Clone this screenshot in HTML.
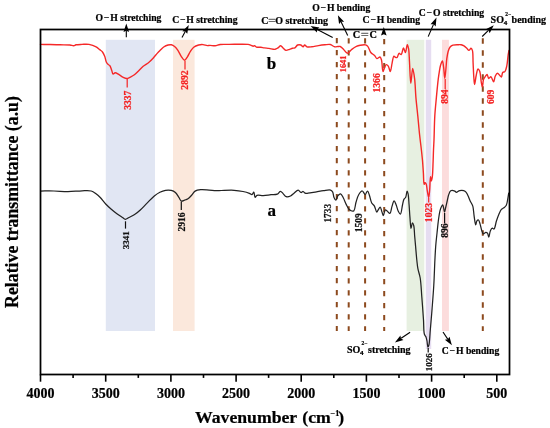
<!DOCTYPE html>
<html><head><meta charset="utf-8"><title>FTIR spectra</title>
<style>
html,body{margin:0;padding:0;background:#fff;}
body{width:550px;height:428px;overflow:hidden;}
svg{display:block;}
text{font-family:'Liberation Serif','Times New Roman',serif;font-weight:bold;fill:currentColor;stroke:currentColor;stroke-width:0.22px;}
</style></head><body>
<svg width="550" height="428" viewBox="0 0 550 428">


<rect x="105.8" y="39.8" width="49.2" height="291.2" fill="#e1e6f3"/>
<rect x="173.0" y="39.8" width="21.6" height="291.2" fill="#fbe8dc"/>
<rect x="406.6" y="39.8" width="17.7" height="291.2" fill="#e7f0e1"/>
<rect x="425.8" y="39.8" width="5.4" height="309.2" fill="#e6ddf1"/>
<rect x="442.0" y="39.8" width="6.9" height="291.2" fill="#fcdcdc"/>
<line x1="336.8" y1="37.9" x2="336.8" y2="331" stroke="#8d4a1e" stroke-width="2" stroke-dasharray="5.4 6.6"/>
<line x1="348.7" y1="38.2" x2="348.7" y2="331" stroke="#8d4a1e" stroke-width="2" stroke-dasharray="5.4 6.6"/>
<line x1="365.1" y1="38.2" x2="365.1" y2="331" stroke="#8d4a1e" stroke-width="2" stroke-dasharray="5.4 6.6"/>
<line x1="384.2" y1="38.9" x2="384.2" y2="331" stroke="#8d4a1e" stroke-width="2" stroke-dasharray="5.4 6.6"/>
<line x1="482.8" y1="38.3" x2="482.8" y2="331" stroke="#8d4a1e" stroke-width="2" stroke-dasharray="5.4 6.6"/>
<path d="M40.50,44.40 C43.67,44.43 46.79,44.44 50.00,44.50 C53.29,44.57 56.67,44.72 60.00,44.80 C63.33,44.88 67.49,44.74 70.00,45.00 C71.54,45.16 72.63,45.80 73.70,45.70 C74.57,45.62 75.03,45.02 76.00,44.80 C77.51,44.46 79.92,44.47 82.00,44.40 C84.24,44.33 86.69,44.02 89.00,44.40 C91.39,44.79 94.16,45.74 96.10,46.80 C97.68,47.66 98.87,49.01 100.00,49.90 C100.87,50.58 101.60,50.86 102.30,51.70 C103.23,52.81 104.03,54.64 104.70,56.30 C105.42,58.11 105.65,60.74 106.40,62.20 C106.91,63.21 107.56,63.89 108.20,64.50 C108.74,65.01 109.40,65.07 109.90,65.70 C110.67,66.68 111.14,68.84 111.70,70.30 C112.20,71.62 112.40,73.87 113.10,74.10 C113.65,74.28 114.39,72.75 115.20,72.70 C116.20,72.63 117.51,73.72 118.70,74.40 C120.04,75.16 121.40,76.41 122.80,77.10 C124.10,77.74 125.52,78.53 126.80,78.50 C128.01,78.47 129.11,77.67 130.30,77.10 C131.63,76.46 133.09,75.77 134.40,74.80 C135.84,73.74 137.09,72.26 138.50,70.90 C140.02,69.44 141.49,67.73 143.20,66.30 C144.98,64.82 147.23,63.70 149.00,62.20 C150.72,60.75 152.28,59.04 153.70,57.50 C154.98,56.11 156.08,54.63 157.20,53.40 C158.17,52.33 158.99,51.50 160.00,50.50 C161.14,49.38 162.33,47.92 163.70,47.00 C165.04,46.10 166.71,45.35 168.10,45.00 C169.25,44.71 170.34,44.57 171.40,44.80 C172.51,45.04 173.59,45.70 174.60,46.50 C175.78,47.44 176.87,48.83 177.90,50.30 C179.10,52.02 180.00,54.55 181.20,56.30 C182.25,57.83 183.53,60.32 184.60,60.30 C185.59,60.29 186.50,58.14 187.40,56.80 C188.45,55.23 189.31,53.05 190.40,51.40 C191.42,49.87 192.34,48.27 193.70,47.20 C195.07,46.13 196.98,45.43 198.60,45.00 C200.07,44.61 201.55,44.50 203.00,44.60 C204.45,44.70 206.03,45.50 207.30,45.60 C208.30,45.68 208.96,45.40 210.00,45.40 C211.43,45.40 213.41,45.94 215.10,45.80 C216.81,45.65 218.25,44.76 220.20,44.50 C222.74,44.17 225.57,44.42 229.10,44.40 C234.27,44.37 244.84,43.88 248.20,44.40 C249.45,44.59 249.86,44.91 250.70,45.20 C251.56,45.50 252.60,46.21 253.30,46.20 C253.78,46.19 254.07,45.65 254.50,45.70 C255.08,45.77 255.58,46.81 256.40,47.10 C257.54,47.50 259.51,47.15 260.90,47.30 C262.12,47.43 263.07,47.73 264.30,47.90 C265.74,48.10 267.33,48.19 269.00,48.40 C270.90,48.64 273.49,49.56 275.10,49.30 C276.25,49.12 276.99,48.46 277.90,47.90 C278.86,47.31 279.83,45.76 280.70,45.80 C281.52,45.84 282.19,47.18 283.00,47.90 C283.88,48.68 284.72,50.05 285.80,50.30 C286.91,50.56 288.44,49.68 289.60,49.30 C290.61,48.97 291.48,48.43 292.40,48.20 C293.24,47.99 294.12,48.30 294.90,47.90 C295.88,47.40 296.54,45.46 297.60,45.00 C298.57,44.58 299.96,44.66 300.90,45.00 C301.77,45.31 302.45,46.85 303.10,46.80 C303.70,46.75 304.10,45.05 304.70,45.00 C305.35,44.95 305.95,46.46 306.90,46.80 C308.15,47.25 310.05,46.96 311.80,46.80 C313.84,46.62 316.20,45.93 318.40,45.60 C320.57,45.27 322.83,44.98 324.90,44.80 C326.78,44.63 328.64,44.14 330.30,44.50 C331.89,44.84 333.30,46.52 334.70,46.80 C335.84,47.03 337.01,46.54 338.00,46.50 C338.81,46.46 339.45,46.23 340.20,46.50 C341.23,46.88 342.29,48.19 343.40,49.20 C344.70,50.38 346.10,53.17 347.50,53.20 C348.90,53.23 350.30,50.54 351.80,49.40 C353.27,48.28 354.89,47.09 356.40,46.40 C357.68,45.81 358.81,45.55 360.20,45.30 C361.81,45.01 364.14,44.55 365.50,44.90 C366.48,45.15 367.08,45.59 367.80,46.40 C368.93,47.67 369.53,50.93 370.80,52.50 C371.87,53.83 373.55,54.42 374.60,55.50 C375.54,56.47 375.97,58.38 376.90,58.60 C377.78,58.81 379.23,56.74 380.00,57.00 C380.76,57.25 381.08,58.70 381.50,60.10 C382.27,62.66 382.25,71.41 383.00,71.50 C383.49,71.56 384.16,68.14 384.80,66.90 C385.28,65.97 385.70,64.70 386.30,64.60 C386.88,64.51 387.72,65.40 388.30,66.20 C389.16,67.38 389.71,71.54 390.30,71.50 C391.02,71.45 391.47,65.77 392.10,63.10 C392.68,60.65 393.04,56.38 393.90,56.10 C394.36,55.95 394.93,57.20 395.50,57.40 C396.00,57.58 396.63,57.70 397.10,57.40 C397.90,56.89 398.17,53.58 399.00,53.30 C399.62,53.09 400.57,54.74 401.20,54.50 C402.25,54.09 402.75,47.92 403.50,47.90 C404.14,47.88 404.83,52.64 405.40,52.60 C406.13,52.55 406.69,44.72 407.30,44.70 C407.74,44.68 408.26,47.02 408.60,48.80 C409.19,51.92 409.18,57.07 409.50,62.00 C409.90,68.28 410.19,83.38 410.80,83.40 C411.31,83.42 412.00,68.42 412.70,68.40 C413.29,68.38 414.10,74.74 414.60,78.70 C415.27,83.99 415.37,91.18 415.90,97.40 C416.43,103.61 417.18,109.78 417.80,116.00 C418.42,122.25 418.97,128.87 419.60,134.80 C420.17,140.14 420.88,145.26 421.40,150.00 C421.86,154.15 422.27,157.81 422.60,161.70 C422.93,165.57 423.15,169.48 423.40,173.30 C423.65,177.04 423.57,184.30 424.10,184.40 C424.32,184.44 424.55,182.77 424.90,182.70 C425.23,182.64 425.77,183.19 426.10,183.80 C426.79,185.07 426.86,188.50 427.30,190.80 C427.73,193.06 428.32,197.51 428.70,197.50 C429.08,197.49 429.34,193.45 429.60,190.80 C429.98,186.99 430.08,176.83 430.50,176.80 C430.73,176.79 431.00,180.89 431.30,180.90 C431.60,180.91 432.03,178.61 432.30,176.80 C432.81,173.37 432.89,166.41 433.10,161.70 C433.28,157.55 433.34,153.75 433.50,150.00 C433.65,146.54 433.83,144.05 434.00,140.00 C434.26,133.72 434.35,123.49 434.80,116.00 C435.19,109.40 435.82,103.61 436.40,97.40 C436.98,91.17 437.72,83.41 438.30,78.70 C438.65,75.83 438.92,74.04 439.30,71.80 C439.66,69.65 439.93,67.40 440.50,65.50 C441.00,63.84 441.90,60.95 442.40,61.00 C442.97,61.06 443.24,64.75 443.60,67.10 C444.08,70.26 444.40,78.30 444.80,78.30 C445.17,78.30 445.57,72.18 445.90,69.00 C446.24,65.66 446.37,61.85 446.80,58.70 C447.17,55.99 447.54,53.31 448.20,51.20 C448.71,49.56 449.22,48.04 450.10,47.00 C450.85,46.11 451.77,45.50 452.90,45.10 C454.30,44.61 456.50,44.74 458.00,44.70 C459.19,44.67 460.19,44.59 461.20,44.80 C462.18,45.00 463.11,45.36 464.00,45.90 C464.99,46.49 465.95,47.51 466.80,48.30 C467.57,49.01 468.20,50.40 468.90,50.40 C469.60,50.40 470.40,48.24 471.00,48.30 C471.55,48.35 472.05,49.34 472.40,50.40 C473.19,52.78 472.87,58.68 473.10,63.00 C473.34,67.57 473.49,73.15 473.80,77.10 C474.03,79.96 474.23,84.49 474.60,84.50 C475.01,84.51 475.58,78.24 476.20,75.50 C476.73,73.14 477.24,69.14 478.00,69.00 C478.50,68.91 479.23,70.17 479.70,71.30 C480.62,73.54 480.75,79.43 481.30,82.30 C481.66,84.17 482.07,86.91 482.40,86.90 C482.82,86.88 482.84,81.33 483.50,79.50 C483.94,78.29 484.58,77.55 485.20,76.70 C485.79,75.90 486.55,74.41 487.10,74.50 C487.76,74.61 487.96,78.31 488.70,78.50 C489.30,78.65 490.21,76.56 490.90,76.70 C491.88,76.89 492.87,81.78 493.60,81.70 C494.35,81.62 494.52,77.51 495.30,76.00 C495.90,74.83 496.73,73.25 497.50,73.20 C498.23,73.16 499.10,74.82 499.80,75.50 C500.38,76.06 500.96,77.12 501.40,77.00 C502.04,76.82 501.92,73.37 502.70,72.50 C503.26,71.88 504.30,72.25 504.90,71.60 C505.86,70.57 506.29,68.15 506.80,65.90 C507.50,62.80 507.75,57.45 508.20,54.60 C508.47,52.85 508.73,51.80 509.00,50.40" fill="none" stroke="#f52828" stroke-width="1.4" stroke-linejoin="round" stroke-linecap="round"/>
<path d="M40.50,191.00 C45.00,191.00 49.46,190.89 54.00,191.00 C58.63,191.12 63.33,191.73 68.00,191.70 C72.69,191.67 77.91,190.89 82.10,190.80 C85.46,190.73 88.72,190.30 91.20,191.00 C93.14,191.55 94.52,192.74 96.00,193.80 C97.45,194.84 98.60,195.88 100.00,197.30 C101.80,199.12 103.78,201.98 105.70,204.00 C107.45,205.84 109.15,207.40 111.00,209.00 C112.88,210.63 114.93,212.25 116.90,213.70 C118.76,215.07 120.95,216.47 122.50,217.50 C123.59,218.22 124.28,219.24 125.30,219.30 C126.43,219.37 127.64,218.18 129.00,217.50 C130.68,216.66 132.78,215.79 134.60,214.60 C136.56,213.32 138.39,211.73 140.30,210.00 C142.45,208.05 144.55,205.67 146.80,203.40 C149.21,200.98 151.89,197.87 154.30,195.90 C156.22,194.33 157.97,193.15 159.90,192.20 C161.71,191.31 163.60,190.60 165.50,190.30 C167.37,190.01 169.49,189.98 171.20,190.40 C172.75,190.78 174.17,191.45 175.40,192.50 C176.79,193.69 177.85,195.88 178.90,197.40 C179.79,198.68 180.27,200.60 181.30,201.00 C182.20,201.35 183.42,200.55 184.50,200.20 C185.65,199.83 186.89,199.52 188.00,198.80 C189.28,197.97 190.44,196.55 191.60,195.30 C192.81,193.99 193.61,192.03 195.10,191.10 C196.63,190.14 198.63,189.91 200.70,189.70 C203.20,189.45 206.43,189.92 209.10,190.10 C211.54,190.26 213.93,190.65 216.10,190.70 C217.99,190.75 219.25,190.56 221.40,190.50 C224.72,190.41 230.25,190.07 234.10,190.30 C237.34,190.49 240.30,190.92 243.00,191.50 C245.33,192.00 247.78,192.75 249.40,193.40 C250.45,193.82 251.18,194.86 251.90,194.70 C252.66,194.53 253.30,192.10 253.80,192.20 C254.45,192.33 254.40,197.11 255.10,197.30 C255.60,197.44 256.08,195.77 257.00,195.40 C258.42,194.84 261.10,195.69 263.30,195.60 C265.74,195.50 268.56,194.96 271.00,194.70 C273.20,194.47 275.64,194.82 277.30,194.10 C278.66,193.51 279.49,191.30 280.50,191.30 C281.41,191.30 282.20,192.77 283.10,193.60 C284.12,194.55 285.05,196.31 286.30,196.70 C287.52,197.08 289.23,196.57 290.50,196.00 C291.80,195.42 292.77,194.14 294.00,193.20 C295.33,192.18 296.96,190.05 298.20,190.10 C299.24,190.14 300.10,192.38 301.00,192.50 C301.72,192.60 302.42,191.42 303.10,191.50 C303.83,191.59 304.39,192.91 305.20,193.20 C306.02,193.49 306.82,193.30 308.00,193.20 C310.07,193.03 313.80,192.23 316.50,191.80 C318.95,191.41 321.16,190.98 323.50,190.70 C325.83,190.42 328.91,189.61 330.50,190.10 C331.49,190.40 332.05,190.94 332.60,191.80 C333.40,193.05 333.35,195.90 334.00,197.40 C334.49,198.54 335.21,200.24 335.80,200.20 C336.54,200.15 337.05,196.60 338.00,195.50 C338.74,194.65 339.79,193.63 340.60,193.80 C341.63,194.01 342.53,196.41 343.40,198.00 C344.42,199.87 345.21,202.43 346.20,204.40 C347.09,206.17 347.90,208.17 349.00,209.30 C349.84,210.16 350.90,210.82 351.80,211.00 C352.52,211.15 353.32,211.23 353.90,210.70 C355.08,209.64 355.17,205.03 356.00,202.30 C356.81,199.63 357.54,196.48 358.80,194.50 C359.77,192.97 361.21,190.95 362.30,191.00 C363.34,191.05 364.32,194.55 365.20,194.50 C366.05,194.45 366.81,190.95 367.50,191.00 C368.22,191.06 368.79,193.56 369.40,195.20 C370.21,197.38 370.64,201.13 371.70,203.00 C372.43,204.28 373.54,204.59 374.30,205.80 C375.32,207.41 375.98,212.03 376.80,212.10 C377.37,212.15 377.90,210.15 378.50,209.30 C379.04,208.53 379.69,207.12 380.20,207.20 C380.91,207.32 381.43,210.61 382.00,212.10 C382.49,213.37 382.93,215.62 383.40,215.60 C383.99,215.58 384.32,210.36 385.20,210.00 C385.73,209.78 386.43,210.55 387.10,211.00 C387.97,211.59 389.15,213.62 389.90,213.40 C390.96,213.09 391.26,208.59 392.00,206.40 C392.67,204.42 393.35,200.84 394.10,200.80 C394.76,200.77 395.55,203.43 396.20,205.00 C396.97,206.86 397.45,209.67 398.30,211.30 C398.92,212.48 399.80,214.23 400.40,214.10 C401.38,213.89 401.86,207.66 402.50,205.00 C403.00,202.91 403.20,200.76 403.90,199.40 C404.39,198.46 405.22,198.27 405.70,197.30 C406.44,195.82 406.62,191.03 407.10,191.00 C407.43,190.98 407.82,192.53 408.10,193.80 C408.64,196.27 408.79,201.13 409.10,205.00 C409.43,209.17 409.66,213.90 410.00,218.00 C410.30,221.69 410.50,228.46 411.00,228.50 C411.37,228.53 411.85,222.86 412.40,222.80 C412.79,222.76 413.36,224.26 413.70,225.50 C414.36,227.88 414.37,232.74 414.70,236.40 C415.04,240.11 415.36,243.77 415.70,247.60 C416.06,251.63 416.40,256.24 416.80,260.00 C417.14,263.16 417.35,265.77 417.90,268.70 C418.47,271.76 419.59,274.34 420.20,278.00 C421.05,283.13 421.28,290.12 421.80,296.70 C422.38,304.04 423.04,313.18 423.50,320.00 C423.86,325.34 423.54,331.55 424.40,334.30 C424.79,335.54 425.49,335.83 425.90,336.80 C426.40,337.99 426.69,339.45 427.00,341.00 C427.38,342.86 427.45,347.14 427.90,347.20 C428.18,347.24 428.61,346.10 428.90,345.00 C429.63,342.26 429.82,335.46 430.30,330.00 C430.88,323.46 431.53,315.75 432.10,308.40 C432.70,300.76 433.34,292.93 433.80,285.00 C434.28,276.81 434.54,267.10 434.90,260.00 C435.17,254.72 435.34,250.81 435.70,246.20 C436.07,241.55 436.62,236.74 437.10,232.20 C437.56,227.89 437.98,223.37 438.50,219.60 C438.93,216.51 439.33,213.50 439.90,211.20 C440.31,209.54 440.75,208.13 441.30,207.00 C441.72,206.15 442.32,204.84 442.70,204.90 C443.16,204.97 443.40,207.20 443.70,208.40 C444.01,209.64 444.19,212.19 444.50,212.20 C444.87,212.21 445.36,208.83 445.80,207.00 C446.29,204.96 446.82,202.58 447.30,200.50 C447.75,198.59 447.99,196.68 448.60,195.00 C449.15,193.47 449.61,191.42 450.70,190.80 C451.72,190.22 453.79,190.72 454.80,191.10 C455.51,191.36 455.75,192.25 456.40,192.30 C457.28,192.37 458.41,190.82 459.70,190.60 C461.31,190.33 464.02,190.49 465.40,191.40 C466.66,192.23 467.13,193.99 467.90,195.50 C468.78,197.21 469.46,199.39 470.30,201.20 C471.10,202.91 472.18,204.12 472.80,206.10 C473.62,208.75 473.60,212.71 474.10,215.90 C474.58,218.97 475.14,224.87 475.70,224.90 C476.09,224.92 476.24,221.59 476.90,220.80 C477.33,220.29 478.04,219.82 478.50,220.00 C479.22,220.28 479.60,222.55 480.10,224.10 C480.72,226.02 481.14,228.92 481.80,230.70 C482.28,231.99 482.68,233.71 483.40,233.90 C484.05,234.07 485.05,232.36 485.80,232.30 C486.40,232.26 487.04,232.58 487.50,233.10 C488.19,233.89 488.37,237.21 488.80,237.20 C489.34,237.18 489.61,232.30 490.40,230.70 C490.94,229.59 491.71,228.35 492.40,228.20 C492.92,228.09 493.51,229.21 494.00,229.00 C495.06,228.54 495.64,223.36 496.50,220.80 C497.28,218.50 498.03,216.29 498.90,214.30 C499.68,212.53 500.41,210.51 501.40,209.40 C502.12,208.59 503.02,208.44 503.80,207.80 C504.66,207.09 505.66,206.48 506.30,205.30 C507.24,203.59 507.48,200.20 507.90,198.00 C508.24,196.21 508.43,194.73 508.70,193.10" fill="none" stroke="#222" stroke-width="1.25" stroke-linejoin="round" stroke-linecap="round"/>
<rect x="40.5" y="29.5" width="469" height="345" fill="none" stroke="#000" stroke-width="1.75"/>
<line x1="40.5" y1="374.5" x2="40.5" y2="381.7" stroke="#000" stroke-width="1.6"/>
<text x="40.5" y="397.5" font-size="14" text-anchor="middle">4000</text>
<line x1="73.1" y1="374.5" x2="73.1" y2="377.9" stroke="#000" stroke-width="1.6"/>
<line x1="105.7" y1="374.5" x2="105.7" y2="381.7" stroke="#000" stroke-width="1.6"/>
<text x="105.7" y="397.5" font-size="14" text-anchor="middle">3500</text>
<line x1="138.3" y1="374.5" x2="138.3" y2="377.9" stroke="#000" stroke-width="1.6"/>
<line x1="170.9" y1="374.5" x2="170.9" y2="381.7" stroke="#000" stroke-width="1.6"/>
<text x="170.9" y="397.5" font-size="14" text-anchor="middle">3000</text>
<line x1="203.5" y1="374.5" x2="203.5" y2="377.9" stroke="#000" stroke-width="1.6"/>
<line x1="236.1" y1="374.5" x2="236.1" y2="381.7" stroke="#000" stroke-width="1.6"/>
<text x="236.1" y="397.5" font-size="14" text-anchor="middle">2500</text>
<line x1="268.6" y1="374.5" x2="268.6" y2="377.9" stroke="#000" stroke-width="1.6"/>
<line x1="301.2" y1="374.5" x2="301.2" y2="381.7" stroke="#000" stroke-width="1.6"/>
<text x="301.2" y="397.5" font-size="14" text-anchor="middle">2000</text>
<line x1="333.8" y1="374.5" x2="333.8" y2="377.9" stroke="#000" stroke-width="1.6"/>
<line x1="366.4" y1="374.5" x2="366.4" y2="381.7" stroke="#000" stroke-width="1.6"/>
<text x="366.4" y="397.5" font-size="14" text-anchor="middle">1500</text>
<line x1="399.0" y1="374.5" x2="399.0" y2="377.9" stroke="#000" stroke-width="1.6"/>
<line x1="431.6" y1="374.5" x2="431.6" y2="381.7" stroke="#000" stroke-width="1.6"/>
<text x="431.6" y="397.5" font-size="14" text-anchor="middle">1000</text>
<line x1="464.2" y1="374.5" x2="464.2" y2="377.9" stroke="#000" stroke-width="1.6"/>
<line x1="496.8" y1="374.5" x2="496.8" y2="381.7" stroke="#000" stroke-width="1.6"/>
<text x="496.8" y="397.5" font-size="14" text-anchor="middle">500</text>
<text x="195" y="422.9" font-size="17.7">Wavenumber<tspan x="302.3">(cm</tspan><tspan x="330.6" dy="-7.3" font-size="8.2">−1</tspan><tspan x="338.2" dy="7.3">)</tspan></text>
<text transform="translate(18.0,202) rotate(-90)" font-size="17.8" text-anchor="middle">Relative transmittance (a.u)</text>
<text x="266.8" y="69" font-size="17">b</text>
<text x="267.6" y="215.5" font-size="17">a</text>
<text x="95.5" y="21.1" font-size="9.7">O<tspan dx="0.8">−</tspan><tspan dx="0.8">H</tspan> stretching</text>
<text x="172.2" y="22.5" font-size="9.7">C<tspan dx="0.8">−</tspan><tspan dx="0.8">H</tspan> stretching</text>
<text x="261.3" y="23.7" font-size="10">C<tspan dx="6.6">O stretching</tspan></text>
<text x="312.2" y="10.5" font-size="9.7">O<tspan dx="0.8">−</tspan><tspan dx="0.8">H</tspan> bending</text>
<text x="362.6" y="23.4" font-size="9.7">C<tspan dx="0.8">−</tspan><tspan dx="0.8">H</tspan> bending</text>
<text x="418.8" y="15.5" font-size="9.7">C<tspan dx="0.8">−</tspan><tspan dx="0.8">O</tspan> stretching</text>
<text x="352.8" y="38.2" font-size="10.3">C<tspan dx="9.3">C</tspan></text>
<text x="268.3" y="23.7" font-size="10" style="color:#6e6e6e;stroke-width:0.5px" transform="translate(268.3,0) scale(1.35,1) translate(-268.3,0)">=</text>
<text x="361.0" y="38.2" font-size="10" style="color:#6e6e6e;stroke-width:0.5px" transform="translate(361.0,0) scale(1.35,1) translate(-361.0,0)">=</text>
<text x="490.6" y="23.4" font-size="10">SO</text>
<text x="503.7" y="25.4" font-size="7">4</text>
<text x="505.2" y="15.6" font-size="5.5">2−</text>
<text x="511.6" y="23.4" font-size="10">bending</text>
<text x="346.9" y="353.2" font-size="10">SO</text>
<text x="360.0" y="355.2" font-size="7">4</text>
<text x="361.5" y="345.4" font-size="5.5">2−</text>
<text x="368.0" y="353.2" font-size="10">stretching</text>
<text x="441.8" y="354.4" font-size="9.7">C<tspan dx="0.8">−</tspan><tspan dx="0.8">H</tspan> bending</text>
<line x1="126.3" y1="37.3" x2="126.30" y2="31.00" stroke="#000" stroke-width="1.1"/>
<polygon points="126.30,23.50 129.10,32.00 126.30,30.80 123.50,32.00" fill="#000"/>
<line x1="182" y1="37.6" x2="185.24" y2="31.60" stroke="#000" stroke-width="1.1"/>
<polygon points="188.80,25.00 187.23,33.81 185.33,31.42 182.30,31.15" fill="#000"/>
<line x1="332.7" y1="37.5" x2="317.27" y2="29.54" stroke="#000" stroke-width="1.1"/>
<polygon points="310.60,26.10 319.44,27.51 317.09,29.45 316.87,32.49" fill="#000"/>
<line x1="347.7" y1="35.5" x2="341.16" y2="21.95" stroke="#000" stroke-width="1.1"/>
<polygon points="337.90,15.20 344.12,21.64 341.07,21.77 339.07,24.07" fill="#000"/>
<polygon points="383.80,27.00 386.60,35.50 383.80,34.30 381.00,35.50" fill="#000"/>
<line x1="428.2" y1="36.6" x2="433.51" y2="24.38" stroke="#000" stroke-width="1.1"/>
<polygon points="436.50,17.50 435.68,26.41 433.59,24.20 430.54,24.18" fill="#000"/>
<line x1="482.2" y1="36.5" x2="488.43" y2="30.43" stroke="#000" stroke-width="1.1"/>
<polygon points="493.80,25.20 489.67,33.14 488.57,30.29 485.76,29.13" fill="#000"/>
<line x1="410.1" y1="332.3" x2="401.13" y2="338.32" stroke="#000" stroke-width="1.1"/>
<polygon points="394.90,342.50 400.40,335.44 400.96,338.43 403.52,340.09" fill="#000"/>
<line x1="443" y1="332" x2="447.73" y2="339.07" stroke="#000" stroke-width="1.1"/>
<polygon points="451.90,345.30 444.85,339.79 447.84,339.23 449.50,336.68" fill="#000"/>
<text transform="translate(130.92,100.20) rotate(-90)" font-size="9.6" text-anchor="middle" style="color:#f42222">3337</text>
<text transform="translate(188.42,80.05) rotate(-90)" font-size="9.6" text-anchor="middle" style="color:#f42222">2892</text>
<text transform="translate(346.11,63.90) rotate(-90)" font-size="8.4" text-anchor="middle" style="color:#f42222">1641</text>
<text transform="translate(380.22,82.90) rotate(-90)" font-size="9.6" text-anchor="middle" style="color:#f42222">1366</text>
<text transform="translate(432.22,212.55) rotate(-90)" font-size="9.6" text-anchor="middle" style="color:#f42222">1023</text>
<text transform="translate(447.72,96.65) rotate(-90)" font-size="9.6" text-anchor="middle" style="color:#f42222">894</text>
<text transform="translate(494.02,96.85) rotate(-90)" font-size="9.6" text-anchor="middle" style="color:#f42222">609</text>
<text transform="translate(128.72,240.25) rotate(-90)" font-size="9.0" text-anchor="middle" style="color:#111">3341</text>
<text transform="translate(184.62,222.00) rotate(-90)" font-size="9.6" text-anchor="middle" style="color:#111">2916</text>
<text transform="translate(330.72,213.25) rotate(-90)" font-size="9.3" text-anchor="middle" style="color:#111">1733</text>
<text transform="translate(361.55,222.80) rotate(-90)" font-size="9.4" text-anchor="middle" style="color:#111">1509</text>
<text transform="translate(431.71,362.25) rotate(-90)" font-size="9.0" text-anchor="middle" style="color:#111">1026</text>
<text transform="translate(447.52,230.60) rotate(-90)" font-size="9.6" text-anchor="middle" style="color:#111">896</text>
<line x1="127.2" y1="79" x2="127.2" y2="87.6" stroke="#f42222" stroke-width="1.2"/>
<line x1="185" y1="60.8" x2="185" y2="69.6" stroke="#f42222" stroke-width="1.2"/>
<line x1="428.7" y1="198" x2="428.7" y2="202.5" stroke="#f42222" stroke-width="1.2"/>
<line x1="445.2" y1="79" x2="445.2" y2="89" stroke="#f42222" stroke-width="1.2"/>
<line x1="125.5" y1="221.3" x2="125.5" y2="228.6" stroke="#111" stroke-width="1.2"/>
<line x1="181.3" y1="201.5" x2="181.3" y2="210" stroke="#111" stroke-width="1.2"/>
<line x1="428.2" y1="348" x2="428.2" y2="352.6" stroke="#111" stroke-width="1.2"/>
<line x1="444.6" y1="213" x2="444.6" y2="223.4" stroke="#111" stroke-width="1.2"/>
</svg></body></html>
